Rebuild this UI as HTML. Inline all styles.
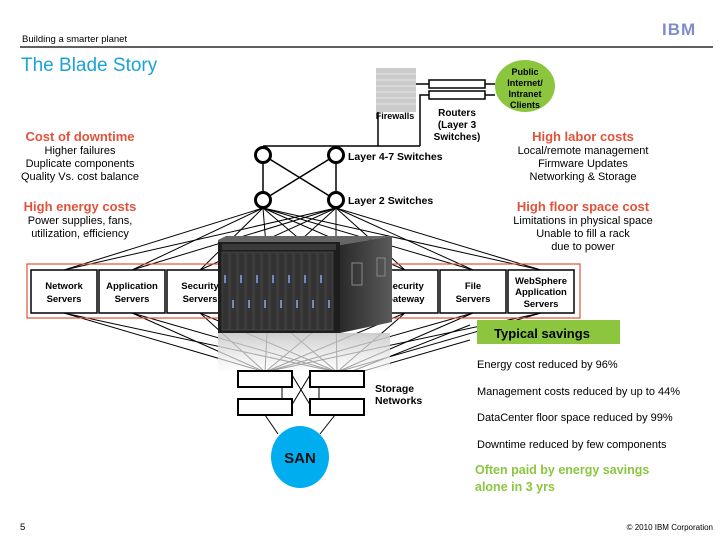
<!DOCTYPE html>
<html><head><meta charset="utf-8"><style>
html,body{margin:0;padding:0;background:#fff}
svg{display:block}
text{font-family:"Liberation Sans",Arial,sans-serif}
</style></head><body>
<svg width="728" height="546" viewBox="0 0 728 546" xmlns="http://www.w3.org/2000/svg">
<defs>
<linearGradient id="side" x1="0" x2="1" y1="0" y2="0"><stop offset="0" stop-color="#2a2a2a"/><stop offset="1" stop-color="#5a5a5a"/></linearGradient>
<linearGradient id="refl" x1="0" x2="0" y1="0" y2="1"><stop offset="0" stop-color="#c8c8c8" stop-opacity="0.9"/><stop offset="1" stop-color="#fff" stop-opacity="0.6"/></linearGradient>
</defs>
<!-- header -->
<text x="22" y="42" font-size="9.5" fill="#000">Building a smarter planet</text>
<g fill="#5a6ec8">
<text x="662" y="35" font-size="17" font-weight="bold" fill="#5566bb" letter-spacing="1" opacity="0.75">IBM</text>
</g>
<line x1="20" y1="47" x2="713" y2="47" stroke="#000" stroke-width="1.2"/>
<text x="21" y="71" font-size="19" fill="#1aa3d6">The Blade Story</text>

<!-- firewall -->
<rect x="376" y="68" width="40" height="44" fill="#ccc"/>
<g stroke="#eee" stroke-width="0.8">
<line x1="376" y1="74" x2="416" y2="74"/><line x1="376" y1="80" x2="416" y2="80"/><line x1="376" y1="86" x2="416" y2="86"/><line x1="376" y1="92" x2="416" y2="92"/><line x1="376" y1="98" x2="416" y2="98"/><line x1="376" y1="104" x2="416" y2="104"/>
</g>
<text x="395" y="119" font-size="9" font-weight="bold" text-anchor="middle">Firewalls</text>
<!-- routers -->
<g stroke="#000" stroke-width="1.5" fill="#fff">
<line x1="416" y1="84" x2="429" y2="84"/>
<rect x="429" y="80" width="56" height="8"/>
<rect x="429" y="91" width="56" height="8"/>
<line x1="485" y1="84" x2="495" y2="84"/>
<line x1="485" y1="95" x2="495" y2="95"/>
<polyline points="429,95 420,95 420,146" fill="none"/>
<line x1="378" y1="112" x2="378" y2="146"/>
<line x1="263" y1="146" x2="420" y2="146"/>
</g>
<text text-anchor="middle" font-size="10" font-weight="bold"><tspan x="457" y="116">Routers</tspan><tspan x="457" y="128">(Layer 3</tspan><tspan x="457" y="140">Switches)</tspan></text>
<ellipse cx="525" cy="86" rx="30" ry="26" fill="#8cc63f"/>
<text text-anchor="middle" font-size="9" font-weight="bold"><tspan x="525" y="75">Public</tspan><tspan x="525" y="86">Internet/</tspan><tspan x="525" y="97">Intranet</tspan><tspan x="525" y="108">Clients</tspan></text>

<!-- switch mesh -->
<g stroke="#000" stroke-width="1.5" fill="none">
<line x1="263" y1="155" x2="263" y2="200"/><line x1="336" y1="155" x2="336" y2="200"/>
<line x1="263" y1="155" x2="336" y2="200"/><line x1="336" y1="155" x2="263" y2="200"/>
</g>
<g stroke="#000" stroke-width="1">
<line x1="263" y1="208" x2="64" y2="270"/><line x1="263" y1="208" x2="132" y2="270"/><line x1="263" y1="208" x2="200" y2="270"/><line x1="263" y1="208" x2="268" y2="270"/><line x1="263" y1="208" x2="336" y2="270"/><line x1="263" y1="208" x2="405" y2="270"/><line x1="263" y1="208" x2="473" y2="270"/><line x1="263" y1="208" x2="541" y2="270"/>
<line x1="336" y1="208" x2="64" y2="270"/><line x1="336" y1="208" x2="132" y2="270"/><line x1="336" y1="208" x2="200" y2="270"/><line x1="336" y1="208" x2="268" y2="270"/><line x1="336" y1="208" x2="336" y2="270"/><line x1="336" y1="208" x2="405" y2="270"/><line x1="336" y1="208" x2="473" y2="270"/><line x1="336" y1="208" x2="541" y2="270"/>
<line x1="64" y1="313" x2="265" y2="372"/><line x1="132" y1="313" x2="265" y2="372"/><line x1="200" y1="313" x2="265" y2="372"/><line x1="268" y1="313" x2="265" y2="372"/><line x1="336" y1="313" x2="265" y2="372"/><line x1="405" y1="313" x2="265" y2="372"/><line x1="473" y1="313" x2="265" y2="372"/><line x1="541" y1="313" x2="265" y2="372"/>
<line x1="64" y1="313" x2="337" y2="372"/><line x1="132" y1="313" x2="337" y2="372"/><line x1="200" y1="313" x2="337" y2="372"/><line x1="268" y1="313" x2="337" y2="372"/><line x1="336" y1="313" x2="337" y2="372"/><line x1="405" y1="313" x2="337" y2="372"/><line x1="473" y1="313" x2="337" y2="372"/><line x1="541" y1="313" x2="337" y2="372"/>
<line x1="470" y1="340" x2="360" y2="372"/><line x1="470" y1="325" x2="350" y2="372"/>
</g>
<g stroke="#000" stroke-width="3" fill="#fff">
<circle cx="263" cy="155" r="7.5"/><circle cx="336" cy="155" r="7.5"/>
<circle cx="263" cy="200" r="7.5"/><circle cx="336" cy="200" r="7.5"/>
</g>
<text x="348" y="160" font-size="10.5" font-weight="bold">Layer 4-7 Switches</text>
<text x="348" y="204" font-size="10.5" font-weight="bold">Layer 2 Switches</text>

<!-- left texts -->
<g text-anchor="middle">
<text x="80" y="141" font-size="13" font-weight="bold" fill="#e0533b">Cost of downtime</text>
<text x="80" y="154" font-size="11">Higher failures</text>
<text x="80" y="167" font-size="11">Duplicate components</text>
<text x="80" y="180" font-size="11">Quality Vs. cost balance</text>
<text x="80" y="211" font-size="13" font-weight="bold" fill="#e0533b">High energy costs</text>
<text x="80" y="224" font-size="11">Power supplies, fans,</text>
<text x="80" y="237" font-size="11">utilization, efficiency</text>
<text x="583" y="141" font-size="13" font-weight="bold" fill="#e0533b">High labor costs</text>
<text x="583" y="154" font-size="11">Local/remote management</text>
<text x="583" y="167" font-size="11">Firmware Updates</text>
<text x="583" y="180" font-size="11">Networking &amp; Storage</text>
<text x="583" y="211" font-size="13" font-weight="bold" fill="#e0533b">High floor space cost</text>
<text x="583" y="224" font-size="11">Limitations in physical space</text>
<text x="583" y="237" font-size="11">Unable to fill a rack</text>
<text x="583" y="250" font-size="11">due to power</text>
</g>

<!-- server row -->
<rect x="27" y="264" width="553" height="54" fill="none" stroke="#e0533b" stroke-width="1.2"/>
<g stroke="#000" stroke-width="1.5" fill="#fff">
<rect x="31" y="270" width="66" height="43"/><rect x="99" y="270" width="66" height="43"/><rect x="167" y="270" width="66" height="43"/><rect x="235" y="270" width="66" height="43"/><rect x="303" y="270" width="66" height="43"/><rect x="372" y="270" width="66" height="43"/><rect x="440" y="270" width="66" height="43"/><rect x="508" y="270" width="66" height="43"/>
</g>
<g text-anchor="middle" font-size="9.5" font-weight="bold">
<text x="64" y="289">Network</text><text x="64" y="302">Servers</text>
<text x="132" y="289">Application</text><text x="132" y="302">Servers</text>
<text x="200" y="289">Security</text><text x="200" y="302">Servers</text>
<text x="405" y="289">Security</text><text x="405" y="302">Gateway</text>
<text x="473" y="289">File</text><text x="473" y="302">Servers</text>
<text x="541" y="284">WebSphere</text><text x="541" y="295">Application</text><text x="541" y="307">Servers</text>
</g>

<!-- blade chassis -->
<rect x="218" y="333" width="172" height="40" fill="url(#refl)"/>
<polygon points="218,240 226,236 392,236 340,245 218,245" fill="#666"/>
<polygon points="340,245 392,236 392,322 340,333" fill="url(#side)"/>
<rect x="218" y="242" width="122" height="91" fill="#1e1e1e"/>
<rect x="222" y="244" width="114" height="6" fill="#3a3a3a"/>
<g fill="#333" stroke="#555" stroke-width="0.6">
<rect x="222" y="252" width="7" height="78"/><rect x="230" y="252" width="7" height="78"/><rect x="238" y="252" width="7" height="78"/><rect x="246" y="252" width="7" height="78"/><rect x="254" y="252" width="7" height="78"/><rect x="262" y="252" width="7" height="78"/><rect x="270" y="252" width="7" height="78"/><rect x="278" y="252" width="7" height="78"/><rect x="286" y="252" width="7" height="78"/><rect x="294" y="252" width="7" height="78"/><rect x="302" y="252" width="7" height="78"/><rect x="310" y="252" width="7" height="78"/><rect x="318" y="252" width="7" height="78"/><rect x="326" y="252" width="7" height="78"/>
</g>
<g fill="#7788bb">
<rect x="224" y="275" width="2" height="8"/><rect x="240" y="275" width="2" height="8"/><rect x="256" y="275" width="2" height="8"/><rect x="272" y="275" width="2" height="8"/><rect x="288" y="275" width="2" height="8"/><rect x="304" y="275" width="2" height="8"/><rect x="320" y="275" width="2" height="8"/>
<rect x="232" y="300" width="2" height="8"/><rect x="248" y="300" width="2" height="8"/><rect x="264" y="300" width="2" height="8"/><rect x="280" y="300" width="2" height="8"/><rect x="296" y="300" width="2" height="8"/><rect x="312" y="300" width="2" height="8"/><rect x="328" y="300" width="2" height="8"/>
</g>
<rect x="352" y="263" width="10" height="22" fill="none" stroke="#888" stroke-width="1"/>
<rect x="377" y="258" width="8" height="18" fill="none" stroke="#888" stroke-width="1"/>

<!-- storage -->
<g stroke="#000" stroke-width="1">
<line x1="282" y1="387" x2="282" y2="398"/><line x1="319" y1="387" x2="319" y2="398"/>
<line x1="292" y1="375" x2="312" y2="408"/><line x1="310" y1="375" x2="290" y2="408"/>
<line x1="265" y1="415" x2="278" y2="434"/><line x1="335" y1="415" x2="320" y2="434"/>
</g>
<g stroke="#000" stroke-width="2" fill="#fff">
<rect x="238" y="371" width="54" height="16"/><rect x="310" y="371" width="54" height="16"/>
<rect x="238" y="399" width="54" height="16"/><rect x="310" y="399" width="54" height="16"/>
</g>
<text font-size="10.5" font-weight="bold"><tspan x="375" y="392">Storage</tspan><tspan x="375" y="404">Networks</tspan></text>
<ellipse cx="300" cy="457" rx="29" ry="31" fill="#00aeef"/>
<text x="300" y="463" font-size="15" font-weight="bold" text-anchor="middle" fill="#111">SAN</text>

<!-- savings -->
<rect x="477" y="320" width="143" height="24" fill="#8cc63f"/>
<text x="542" y="338" font-size="13" font-weight="bold" text-anchor="middle">Typical savings</text>
<g font-size="11">
<text x="477" y="368">Energy cost reduced by 96%</text>
<text x="477" y="395">Management costs reduced by up to 44%</text>
<text x="477" y="421">DataCenter floor space reduced by 99%</text>
<text x="477" y="448">Downtime reduced by few components</text>
</g>
<text font-size="12.5" font-weight="bold" fill="#8cc63f"><tspan x="475" y="474">Often paid by energy savings</tspan><tspan x="475" y="491">alone in 3 yrs</tspan></text>

<!-- footer -->
<text x="20" y="530" font-size="9.5">5</text>
<text x="713" y="530" font-size="8" text-anchor="end">© 2010 IBM Corporation</text>
</svg>
</body></html>
